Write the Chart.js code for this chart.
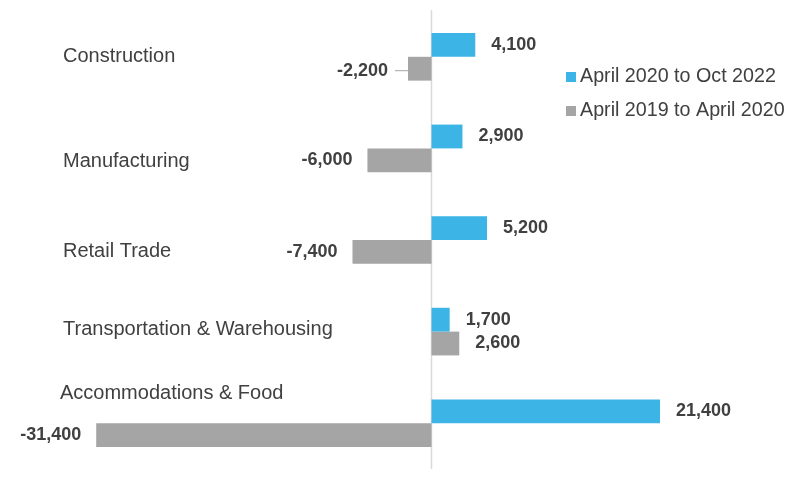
<!DOCTYPE html>
<html lang="en">
<head>
    <meta charset="UTF-8">
    <title>Job change by industry</title>
    <script src="https://cdn.jsdelivr.net/npm/chart.js@4.4.0/dist/chart.umd.min.js"></script>
    <style>
        body {
            margin: 0;
            background-color: white;
            font-family: "Liberation Sans", Arial, sans-serif;
        }

        .chartbox {
            position: relative;
            width: 800px;
            height: 487px;
        }
    </style>
</head>
<body>

    <div class="chartbox">
        <canvas id="barChart"></canvas>
    </div>

    <script>
        // data
        const industries = ['Construction', 'Manufacturing', 'Retail Trade', 'Transportation & Warehousing', 'Accommodations & Food'];
        const seriesNames = ['April 2020 to Oct 2022', 'April 2019 to April 2020'];
        const recovery = [4100, 2900, 5200, 1700, 21400];
        const pandemicDrop = [-2200, -6000, -7400, 2600, -31400];

        const seriesColors = ['#3cb4e5', '#a5a5a5'];
        const textColor = '#404040';

        // category names sit at the left, nudged up/down like the original text boxes
        const nameNudge = [0, 13, 11, -2, -30];

        const fmt = v => (v < 0 ? '-' : '') + Math.abs(v).toLocaleString('en-US');

        const decorations = {
            id: 'decorations',
            beforeDatasetsDraw(chart) {
                const ctx = chart.ctx;
                const x0 = chart.scales.x.getPixelForValue(0);
                ctx.save();
                ctx.strokeStyle = '#d9d9d9';
                ctx.lineWidth = 1.5;
                ctx.beginPath();
                ctx.moveTo(x0, chart.chartArea.top - 1);
                ctx.lineTo(x0, chart.chartArea.bottom);
                ctx.stroke();
                ctx.restore();
            },
            afterDatasetsDraw(chart) {
                const ctx = chart.ctx;
                const yScale = chart.scales.y;
                ctx.save();

                // industry names
                ctx.font = '20px "Liberation Sans", Arial, sans-serif';
                ctx.fillStyle = textColor;
                ctx.textBaseline = 'middle';
                ctx.textAlign = 'left';
                industries.forEach((name, i) => {
                    ctx.fillText(name, i == 4 ? 60 : 63, yScale.getPixelForValue(i) + nameNudge[i]);
                });

                // value labels
                ctx.font = 'bold 18px "Liberation Sans", Arial, sans-serif';
                chart.data.datasets.forEach((ds, di) => {
                    const meta = chart.getDatasetMeta(di);
                    meta.data.forEach((bar, i) => {
                        const v = ds.data[i];
                        let y = bar.y;
                        if (v >= 0) {
                            ctx.textAlign = 'left';
                            ctx.fillText(fmt(v), bar.x + 16, y);
                        } else if (di == 1 && i == 0) {
                            // small bar: label pulled out with a leader line
                            ctx.textAlign = 'right';
                            ctx.fillText(fmt(v), bar.x - 20, y + 2.5);
                            ctx.strokeStyle = '#a5a5a5';
                            ctx.lineWidth = 1;
                            ctx.beginPath();
                            ctx.moveTo(bar.x - 13, y + 2);
                            ctx.lineTo(bar.x, y + 2);
                            ctx.stroke();
                        } else {
                            ctx.textAlign = 'right';
                            ctx.fillText(fmt(v), bar.x - 15, y);
                        }
                    });
                });

                // legend
                ctx.font = '19.7px "Liberation Sans", Arial, sans-serif';
                ctx.textAlign = 'left';
                seriesNames.forEach((name, i) => {
                    const cy = 77 + i * 34;
                    ctx.fillStyle = seriesColors[i];
                    ctx.fillRect(566, cy - 5, 10, 10);
                    ctx.fillStyle = textColor;
                    ctx.fillText(name, 580, cy);
                });
                ctx.restore();
            }
        };

        const bar = document.getElementById('barChart').getContext('2d');
        const barChart = new Chart(bar, {
            type: 'bar',
            data: {
                labels: industries,
                datasets: [{
                    label: seriesNames[0],
                    data: recovery,
                    backgroundColor: seriesColors[0],
                    borderWidth: 0
                }, {
                    label: seriesNames[1],
                    data: pandemicDrop,
                    backgroundColor: seriesColors[1],
                    borderWidth: 0
                }]
            },
            options: {
                indexAxis: 'y',
                animation: false,
                responsive: true,
                maintainAspectRatio: false,
                categoryPercentage: 0.52,
                barPercentage: 1.0,
                layout: {
                    padding: { top: 11, bottom: 18, left: 0, right: 0 }
                },
                plugins: {
                    legend: { display: false },
                    tooltip: { enabled: false }
                },
                scales: {
                    x: {
                        display: false,
                        min: -40410,
                        max: 34510
                    },
                    y: {
                        display: false
                    }
                }
            },
            plugins: [decorations]
        });
    </script>
</body>
</html>
